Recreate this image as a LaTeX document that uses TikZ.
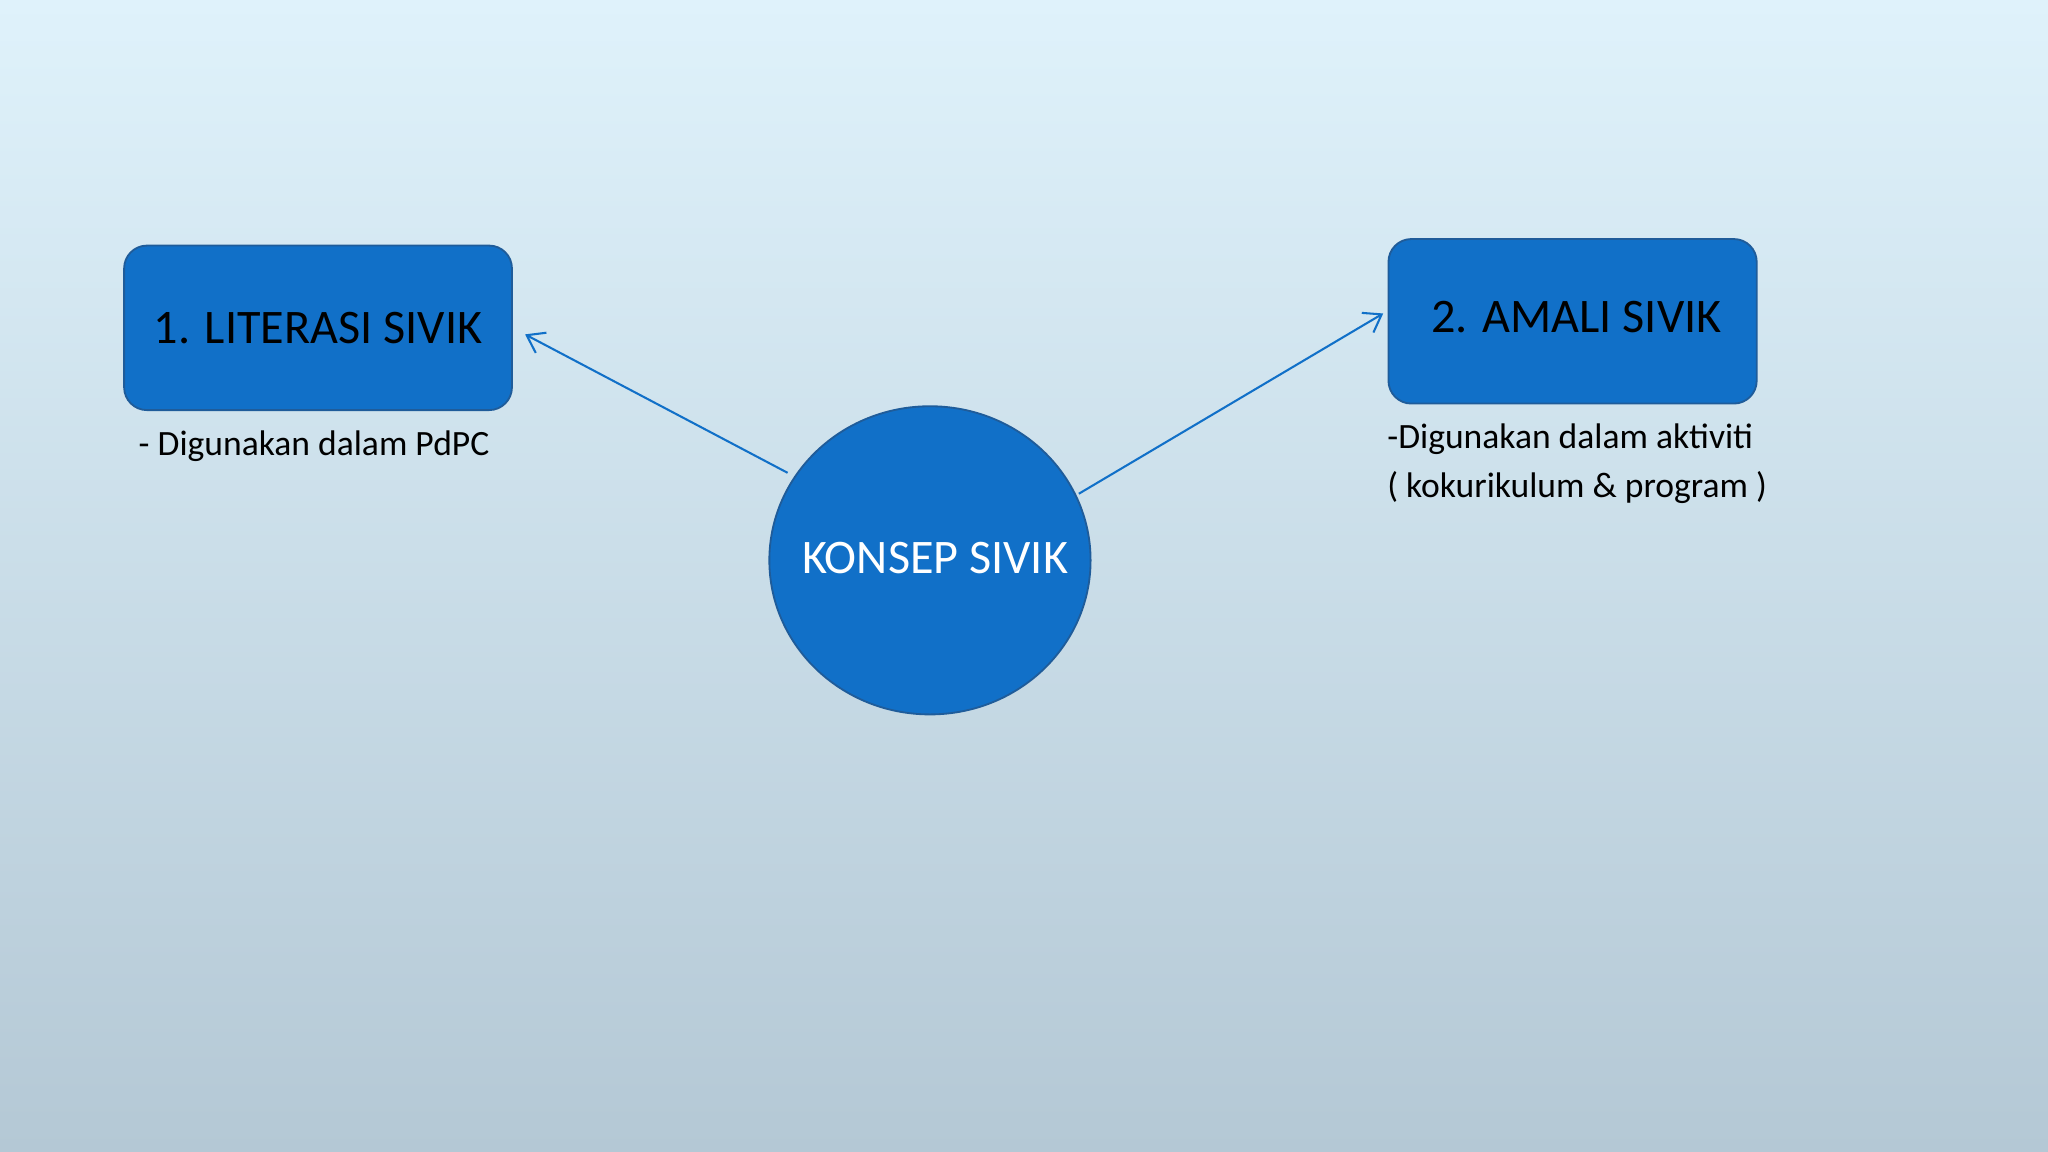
\documentclass[tikz,border=0pt]{standalone}
\usepackage{fontspec}
\setmainfont{Carlito}
\usetikzlibrary{shapes.geometric,arrows.meta}
\definecolor{boxblue}{HTML}{1170C8}
\definecolor{edgeblue}{HTML}{1F5C9A}
\definecolor{bgtop}{HTML}{DFF2FB}
\definecolor{bgbot}{HTML}{B4C8D5}
\tikzset{
  box/.style={draw=edgeblue, fill=boxblue, rounded corners=0.35cm, line width=0.8pt, inner sep=0pt},
  boxtext/.style={font=\fontsize{21}{24}\selectfont, text=black},
  note/.style={font=\fontsize{15.5}{21}\selectfont, text=black, anchor=west, align=left},
  link/.style={draw=boxblue, line width=0.9pt, -{Straight Barb[length=2.5mm,width=3.5mm]}}
}
\begin{document}
\begin{tikzpicture}[x=0.02cm,y=-0.02cm]
\shade[top color=bgtop, bottom color=bgbot] (0,0) rectangle (1568,882);
\useasboundingbox (0,0) rectangle (1568,882);
\node[box, minimum width=5.94cm, minimum height=2.52cm] (lit) at (243.5,251) {};
\node[boxtext] at (lit) {1. LITERASI SIVIK};
\node[box, minimum width=5.64cm, minimum height=2.52cm] (ama) at (1204,246) {};
\node[boxtext] at (1207,243) {2. AMALI SIVIK};
\node[draw=edgeblue, fill=boxblue, ellipse, line width=0.8pt, minimum width=4.92cm, minimum height=4.72cm, inner sep=0pt] (c) at (712,429) {};
\node[font=\fontsize{21}{24}\selectfont, text=white] at (716,427) {KONSEP SIVIK};
\node[note] (n1) at (100,342) {- Digunakan dalam PdPC};
\node[note] (n2) at (1056,355) {-Digunakan dalam aktiviti\\( kokurikulum \& program )};
\coordinate (s1) at (603,362);
\coordinate (e1) at (402,256);
\coordinate (s2) at (826,378);
\coordinate (e2) at (1059,240);
\draw[link] (s1) -- (e1);
\draw[link] (s2) -- (e2);
\end{tikzpicture}
\end{document}
